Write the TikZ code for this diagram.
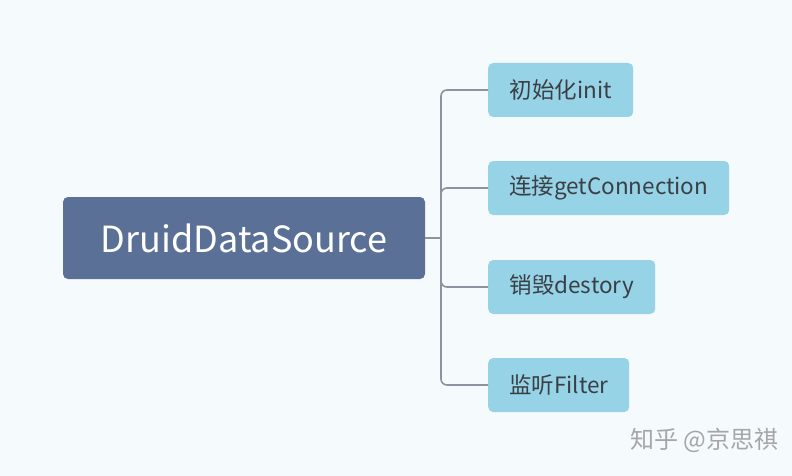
\documentclass[tikz,border=0pt]{standalone}
\usepackage{fontspec}
\setmainfont{Noto Sans CJK SC}
\definecolor{bg}{HTML}{F5FAFD}
\definecolor{rootc}{HTML}{5A7096}
\definecolor{childc}{HTML}{97D3E7}
\definecolor{linec}{HTML}{8C939E}
\definecolor{txt}{HTML}{3A3F45}
\begin{document}
\begin{tikzpicture}[x=1pt,y=-1pt,
  child/.style={fill=childc,rounded corners=5pt,anchor=west,minimum height=54pt,inner xsep=0pt,text=txt,font=\fontsize{22.5}{26}\selectfont},
  conn/.style={draw=linec,line width=1.6pt,rounded corners=6pt}]
\fill[bg] (0,0) rectangle (792,476);
\useasboundingbox (0,0) rectangle (792,476);
\node[fill=rootc,rounded corners=5pt,minimum width=362pt,minimum height=82pt,text=white,font=\fontsize{36}{40}\selectfont] (root) at (244,238) {DruidDataSource};
\node[child,minimum width=145pt] (c1) at (488,90) {初始化init};
\node[child,minimum width=241pt] (c2) at (488,188) {连接getConnection};
\node[child,minimum width=167pt] (c3) at (488,287) {销毁destory};
\node[child,minimum width=141pt] (c4) at (488,385) {监听Filter};
\coordinate (j) at (441,238);
\draw[conn] (root.east) -- (j);
\draw[conn] (j) |- (c1.west);
\draw[conn] (j) |- (c4.west);
\draw[conn] (j) |- (c2.west);
\draw[conn] (j) |- (c3.west);
\node[text=gray!70,font=\fontsize{24}{28}\selectfont,anchor=east] (wm) at (782,440) {知乎 @京思祺};
\end{tikzpicture}
\end{document}
